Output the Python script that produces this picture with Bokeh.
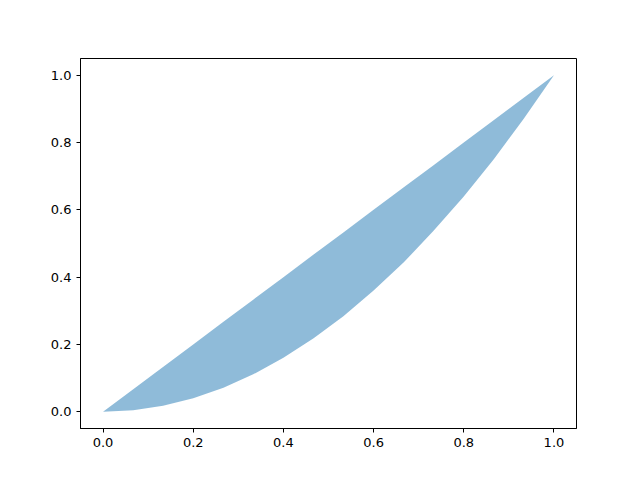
from bokeh.plotting import figure
from bokeh.models import Range1d, FixedTicker, NumeralTickFormatter
from bokeh.embed import file_html
from bokeh.resources import INLINE

x = [0.0, 0.067, 0.133, 0.2, 0.267, 0.333, 0.4, 0.467, 0.533, 0.6,
     0.667, 0.733, 0.8, 0.867, 0.933, 1.0]
upper = [0.0, 0.067, 0.133, 0.2, 0.267, 0.333, 0.4, 0.467, 0.533, 0.6,
         0.667, 0.733, 0.8, 0.867, 0.933, 1.0]
lower = [0.0, 0.004, 0.018, 0.04, 0.071, 0.111, 0.16, 0.218, 0.284, 0.36,
         0.444, 0.538, 0.64, 0.751, 0.871, 1.0]
ticks = [0.0, 0.2, 0.4, 0.6, 0.8, 1.0]

p = figure(width=640, height=480, output_backend="svg", toolbar_location=None,
           x_range=Range1d(-0.05, 1.05), y_range=Range1d(-0.05, 1.05),
           min_border_left=80, min_border_right=64, min_border_top=58,
           min_border_bottom=52)

p.varea(x=x, y1=lower, y2=upper, fill_color="#1f77b4", fill_alpha=0.5)

p.xgrid.visible = False
p.ygrid.visible = False
p.outline_line_color = "black"
p.outline_line_width = 1

for ax in (p.xaxis, p.yaxis):
    ax.ticker = FixedTicker(ticks=ticks)
    ax.formatter = NumeralTickFormatter(format="0.0")
    ax.minor_tick_line_color = None
    ax.major_tick_in = 0
    ax.major_tick_out = 4
    ax.major_tick_line_color = "black"
    ax.axis_line_color = "black"
    ax.major_label_text_font = "DejaVu Sans"
    ax.major_label_text_font_size = "13px"
    ax.major_label_text_color = "black"

open("out.html", "w").write(file_html(p, INLINE))
